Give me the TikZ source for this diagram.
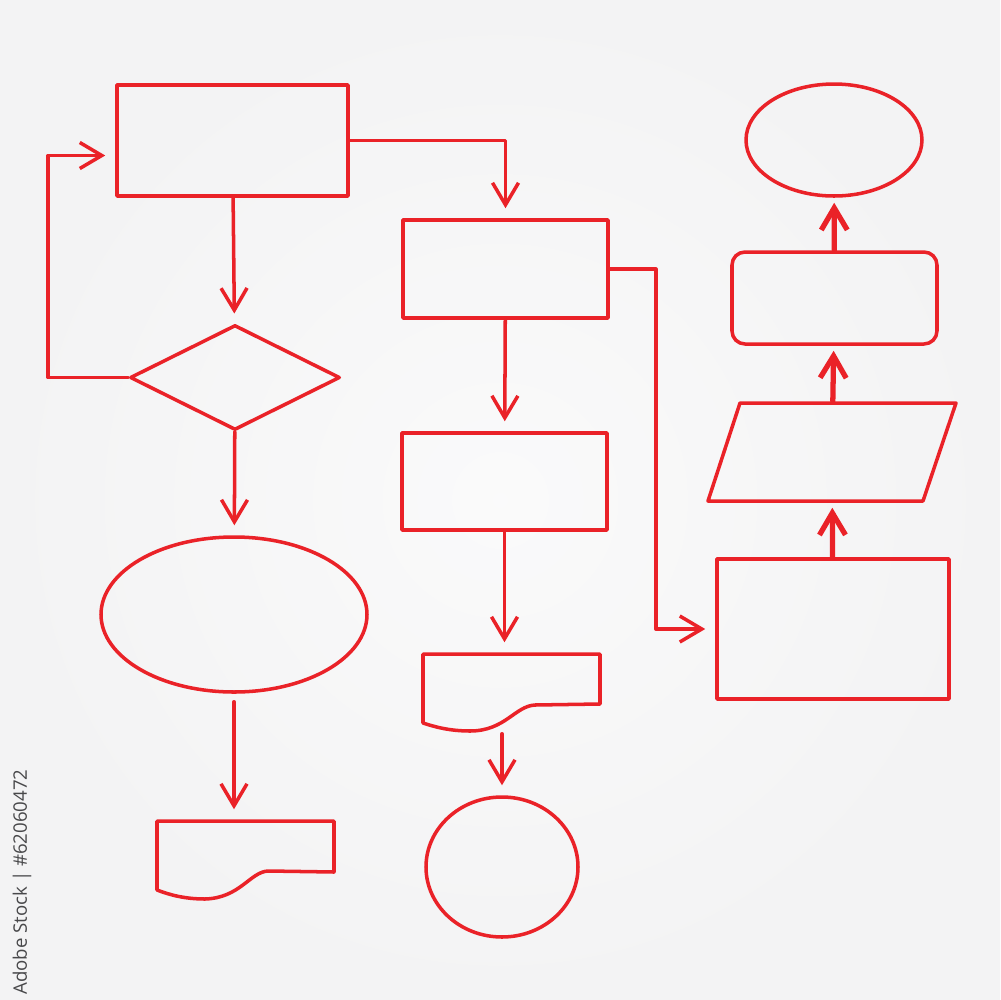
\documentclass[tikz,border=0pt]{standalone}
\usepackage{fontspec}
\setsansfont{Open Sans}
\usetikzlibrary{arrows.meta,shapes.geometric,calc}
\definecolor{pen}{RGB}{234,34,40}
\definecolor{paper}{RGB}{243,243,244}
\definecolor{stamp}{RGB}{72,72,74}
\tikzset{
  pencil/.style={
    draw=pen,
    line width=1pt,
    line cap=round,
    line join=round
  },
  box/.style={pencil, rectangle, inner sep=0pt},
  oval/.style={pencil, ellipse, inner sep=0pt},
  flow/.style={pencil, -{Straight Barb[length=2.2mm,width=2.6mm]}, shorten >=1mm},
  lift/.style={flow, line width=1.5pt, shorten >=0.5mm}
}

\begin{document}
\begin{tikzpicture}[x=0.1mm,y=-0.1mm]
  \useasboundingbox (0,0) rectangle (1000,1000);
  \shade[inner color=white!60!paper, outer color=paper] (0,0) rectangle (1000,1000);
  \node[rotate=90, text=stamp, font=\sffamily\fontsize{5.3}{6}\selectfont] (stock) at (22,882) {Adobe Stock | \#62060472};

  % left column
  \node[box, minimum width=2.31cm, minimum height=1.11cm] (start) at (232.5,140.5) {};
  \node[pencil, diamond, inner sep=0pt, shape aspect=2, minimum width=2.1cm, minimum height=1.05cm] (check) at (235,377.5) {};
  \node[oval, minimum width=2.66cm, minimum height=1.55cm] (big) at (234,614.5) {};
  \node[box, draw=none, minimum width=1.77cm, minimum height=0.78cm] (doca) at (245.5,860) {};
  \draw[pencil] (157,890) -- (157,821) -- (334,821) -- (334,872) -- (268,871)
    .. controls (250,872) and (240,898) .. (205,899)
    .. controls (185,899) and (170,895) .. (157,890);

  % middle column
  \node[box, minimum width=2.05cm, minimum height=0.98cm] (stepa) at (505.5,269) {};
  \node[box, minimum width=2.05cm, minimum height=0.97cm] (stepb) at (504.5,481.5) {};
  \node[box, draw=none, minimum width=1.77cm, minimum height=0.78cm] (docb) at (511.5,693) {};
  \draw[pencil] (423,723) -- (423,654) -- (600,654) -- (600,704) -- (535,705)
    .. controls (515,706) and (505,731) .. (470,731)
    .. controls (450,731) and (435,727) .. (423,723);
  \node[oval, minimum width=1.52cm, minimum height=1.4cm] (dot) at (502,867) {};

  % right column
  \node[box, minimum width=2.32cm, minimum height=1.4cm] (task) at (833,629) {};
  \node[box, draw=none, minimum width=2.48cm, minimum height=0.98cm] (input) at (832,452) {};
  \draw[pencil] (740,403) -- (956,403) -- (923,501) -- (708,501) -- cycle;
  \node[box, rounded corners=1.3mm, minimum width=2.05cm, minimum height=0.92cm] (step) at (834.5,298) {};
  \node[oval, minimum width=1.76cm, minimum height=1.12cm] (stop) at (834,140) {};

  % connectors
  \draw[flow] (start) -- (check);
  \draw[flow] (check) -- (big);
  \draw[flow] ($(big.south)+(0,8)$) -- (big.south |- doca.north);
  \draw[flow] (check.west) -- ++(-80,0) |- ($(start.west)+(0,15)$);
  \draw[flow] (start.east) -| (stepa.north);
  \draw[flow] (stepa) -- (stepb);
  \draw[flow] (stepb) -- (stepb.south |- docb.north);
  \draw[flow] (dot.north |- docb.south) -- (dot);
  \draw[flow] (stepa.east) -- ++(46,0) |- (task.west);
  \draw[lift] (task) -- (input);
  \draw[lift] (input) -- (step);
  \draw[lift] (step) -- (stop);
\end{tikzpicture}
\end{document}
